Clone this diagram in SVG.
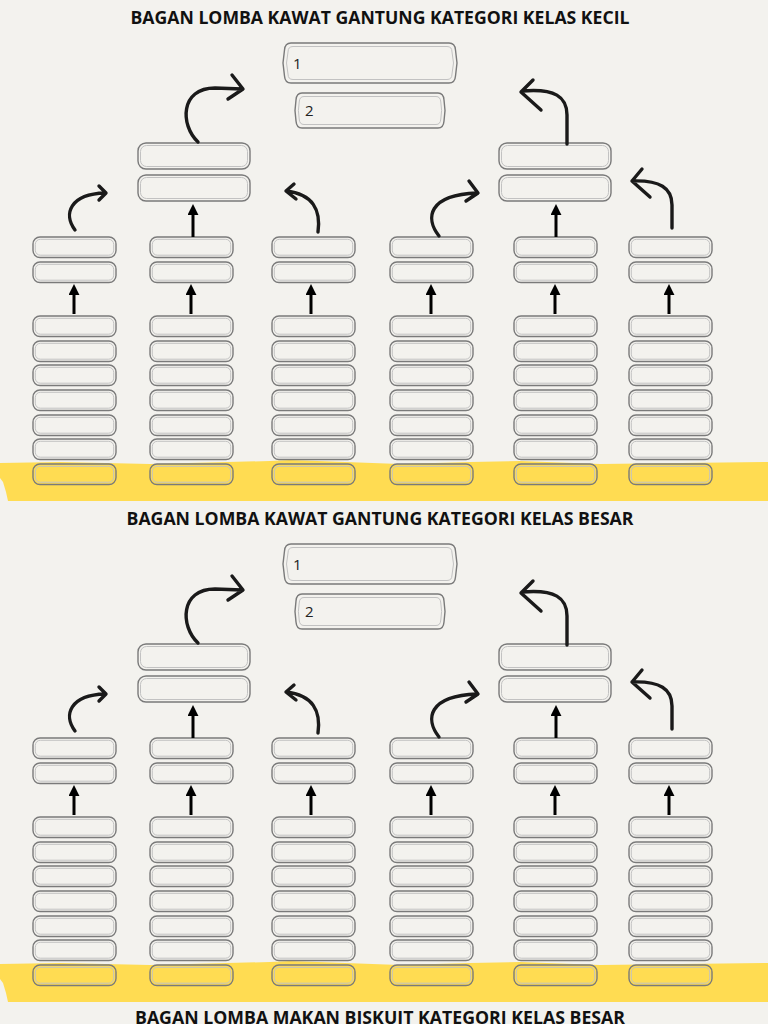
<svg xmlns="http://www.w3.org/2000/svg" xmlns:xlink="http://www.w3.org/1999/xlink" width="768" height="1024" viewBox="0 0 768 1024">
<style>
.bg{fill:#f3f2ee}
.band{fill:#ffdc52}
.title{font-family:"Open Sans","Liberation Sans",sans-serif;font-weight:700;font-size:17px;fill:#111;text-anchor:middle}
.num{font-family:"Open Sans","Liberation Sans",sans-serif;font-size:15px;fill:#222}
.o{fill:none;stroke:#7a7a7a;stroke-width:1.4}
.i{fill:none;stroke:#c2c2c2;stroke-width:1}
.sa{stroke:#000;stroke-width:3;fill:none}
.ca{stroke:#1a1a1a;stroke-width:3.4;fill:none;stroke-linecap:round;stroke-linejoin:round}
</style>
<defs>
<g id="sb"><rect class="o" x="0" y="0" width="83" height="20.5" rx="7"/><rect class="i" x="2.3" y="2.3" width="78.4" height="15.9" rx="5"/></g>
<g id="mb"><rect class="o" x="0" y="0" width="112" height="26" rx="8"/><rect class="i" x="2.5" y="2.5" width="107" height="21" rx="6"/></g>
<marker id="ah" viewBox="0 0 10 10" refX="1" refY="5" markerWidth="11" markerHeight="11" markerUnits="userSpaceOnUse" orient="auto"><path d="M0,0 L10,5 L0,10 Z" fill="#000"/></marker>
</defs>
<rect class="bg" x="0" y="0" width="768" height="1024"/>

<!-- bands -->
<path class="band" d="M0,463 L60,462 L150,464 L270,461 L290,460 L400,464 L470,462 L520,461 L600,464 L768,462 L768,501 L8,501 L6,492 L3,482 L0,478 Z"/>
<path class="band" d="M0,964 L60,963 L150,965 L270,962 L290,961 L400,965 L470,963 L520,962 L600,965 L768,963 L768,1002 L8,1002 L6,993 L3,983 L0,979 Z"/>

<!-- SECTION 1 -->
<text class="title" x="380" y="24" textLength="499" lengthAdjust="spacingAndGlyphs">BAGAN LOMBA KAWAT GANTUNG KATEGORI KELAS KECIL</text>
<g id="s1-nodes">
<g id="s1-final1"><path class="o" d="M291,43 H449 Q455,43 455.5,50 L457,63 L455.5,76 Q455,83 449,83 H291 Q285,83 284.5,76 L283,63 L284.5,50 Q285,43 291,43 Z"/><path class="i" d="M293,46.5 H447 Q452,46.5 452,52 L453.5,63 L452,74 Q452,79.5 447,79.5 H293 Q288,79.5 288,74 L286.5,63 L288,52 Q288,46.5 293,46.5 Z"/><text class="num" x="293" y="69">1</text></g>
<g id="s1-final2"><path class="o" d="M302,93 H438 Q443.5,93 444,100 L445,110.5 L444,121 Q443.5,128 438,128 H302 Q296.5,128 296,121 L295,110.5 L296,100 Q296.5,93 302,93 Z"/><path class="i" d="M304,96.5 H436 Q440.5,96.5 440.8,102 L441.6,110.5 L440.8,119 Q440.5,124.5 436,124.5 H304 Q299.5,124.5 299.2,119 L298.4,110.5 L299.2,102 Q299.5,96.5 304,96.5 Z"/><text class="num" x="305" y="116">2</text></g>
<g id="s1-L2a"><use xlink:href="#mb" x="138" y="143"/></g>
<g id="s1-L2b"><use xlink:href="#mb" x="138" y="175"/></g>
<g id="s1-R2a"><use xlink:href="#mb" x="499" y="143"/></g>
<g id="s1-R2b"><use xlink:href="#mb" x="499" y="175"/></g>
<g id="s1-c1-q1"><use xlink:href="#sb" x="33" y="237"/></g><g id="s1-c1-q2"><use xlink:href="#sb" x="33" y="262"/></g>
<g id="s1-c2-q1"><use xlink:href="#sb" x="150" y="237"/></g><g id="s1-c2-q2"><use xlink:href="#sb" x="150" y="262"/></g>
<g id="s1-c3-q1"><use xlink:href="#sb" x="272" y="237"/></g><g id="s1-c3-q2"><use xlink:href="#sb" x="272" y="262"/></g>
<g id="s1-c4-q1"><use xlink:href="#sb" x="390" y="237"/></g><g id="s1-c4-q2"><use xlink:href="#sb" x="390" y="262"/></g>
<g id="s1-c5-q1"><use xlink:href="#sb" x="514" y="237"/></g><g id="s1-c5-q2"><use xlink:href="#sb" x="514" y="262"/></g>
<g id="s1-c6-q1"><use xlink:href="#sb" x="629" y="237"/></g><g id="s1-c6-q2"><use xlink:href="#sb" x="629" y="262"/></g>
<g id="s1-c1-r1"><use xlink:href="#sb" x="33" y="316"/></g><g id="s1-c1-r2"><use xlink:href="#sb" x="33" y="341"/></g><g id="s1-c1-r3"><use xlink:href="#sb" x="33" y="365"/></g><g id="s1-c1-r4"><use xlink:href="#sb" x="33" y="390"/></g><g id="s1-c1-r5"><use xlink:href="#sb" x="33" y="415"/></g><g id="s1-c1-r6"><use xlink:href="#sb" x="33" y="439"/></g><g id="s1-c1-r7"><use xlink:href="#sb" x="33" y="464"/></g>
<g id="s1-c2-r1"><use xlink:href="#sb" x="150" y="316"/></g><g id="s1-c2-r2"><use xlink:href="#sb" x="150" y="341"/></g><g id="s1-c2-r3"><use xlink:href="#sb" x="150" y="365"/></g><g id="s1-c2-r4"><use xlink:href="#sb" x="150" y="390"/></g><g id="s1-c2-r5"><use xlink:href="#sb" x="150" y="415"/></g><g id="s1-c2-r6"><use xlink:href="#sb" x="150" y="439"/></g><g id="s1-c2-r7"><use xlink:href="#sb" x="150" y="464"/></g>
<g id="s1-c3-r1"><use xlink:href="#sb" x="272" y="316"/></g><g id="s1-c3-r2"><use xlink:href="#sb" x="272" y="341"/></g><g id="s1-c3-r3"><use xlink:href="#sb" x="272" y="365"/></g><g id="s1-c3-r4"><use xlink:href="#sb" x="272" y="390"/></g><g id="s1-c3-r5"><use xlink:href="#sb" x="272" y="415"/></g><g id="s1-c3-r6"><use xlink:href="#sb" x="272" y="439"/></g><g id="s1-c3-r7"><use xlink:href="#sb" x="272" y="464"/></g>
<g id="s1-c4-r1"><use xlink:href="#sb" x="390" y="316"/></g><g id="s1-c4-r2"><use xlink:href="#sb" x="390" y="341"/></g><g id="s1-c4-r3"><use xlink:href="#sb" x="390" y="365"/></g><g id="s1-c4-r4"><use xlink:href="#sb" x="390" y="390"/></g><g id="s1-c4-r5"><use xlink:href="#sb" x="390" y="415"/></g><g id="s1-c4-r6"><use xlink:href="#sb" x="390" y="439"/></g><g id="s1-c4-r7"><use xlink:href="#sb" x="390" y="464"/></g>
<g id="s1-c5-r1"><use xlink:href="#sb" x="514" y="316"/></g><g id="s1-c5-r2"><use xlink:href="#sb" x="514" y="341"/></g><g id="s1-c5-r3"><use xlink:href="#sb" x="514" y="365"/></g><g id="s1-c5-r4"><use xlink:href="#sb" x="514" y="390"/></g><g id="s1-c5-r5"><use xlink:href="#sb" x="514" y="415"/></g><g id="s1-c5-r6"><use xlink:href="#sb" x="514" y="439"/></g><g id="s1-c5-r7"><use xlink:href="#sb" x="514" y="464"/></g>
<g id="s1-c6-r1"><use xlink:href="#sb" x="629" y="316"/></g><g id="s1-c6-r2"><use xlink:href="#sb" x="629" y="341"/></g><g id="s1-c6-r3"><use xlink:href="#sb" x="629" y="365"/></g><g id="s1-c6-r4"><use xlink:href="#sb" x="629" y="390"/></g><g id="s1-c6-r5"><use xlink:href="#sb" x="629" y="415"/></g><g id="s1-c6-r6"><use xlink:href="#sb" x="629" y="439"/></g><g id="s1-c6-r7"><use xlink:href="#sb" x="629" y="464"/></g>
</g>
<g id="s1-connectors">
<line class="sa" x1="74" y1="314" x2="74" y2="294" marker-end="url(#ah)"/>
<line class="sa" x1="191" y1="314" x2="191" y2="294" marker-end="url(#ah)"/>
<line class="sa" x1="311" y1="314" x2="311" y2="294" marker-end="url(#ah)"/>
<line class="sa" x1="431" y1="314" x2="431" y2="294" marker-end="url(#ah)"/>
<line class="sa" x1="555" y1="314" x2="555" y2="294" marker-end="url(#ah)"/>
<line class="sa" x1="669" y1="314" x2="669" y2="294" marker-end="url(#ah)"/>
<line class="sa" x1="193" y1="237" x2="193" y2="214" marker-end="url(#ah)"/>
<line class="sa" x1="556" y1="237" x2="556" y2="214" marker-end="url(#ah)"/>
<path class="ca" d="M75,230 C63,214 70,194 105,193 M99,186 L106,193 L99,200"/>
<path class="ca" d="M318,232 C321,210 313,194 286,191 M294,184 L286,191 L296,199"/>
<path class="ca" d="M439,236 C425,218 428,195 477,193 M469,181 L478,193 L466,201"/>
<path class="ca" d="M672,228 L672,205 C672,188 660,180 632,181 M642,169 L632,181 L650,197"/>
<path class="ca" d="M198,142 C180,125 180,88 215,88 L242,89 M232,75 L243,89 L228,99"/>
<path class="ca" d="M567,144 L567,115 C567,97 555,88 522,91 M533,80 L521,92 L541,110"/>
</g>

<!-- SECTION 2 -->
<text class="title" x="380" y="525" textLength="507" lengthAdjust="spacingAndGlyphs">BAGAN LOMBA KAWAT GANTUNG KATEGORI KELAS BESAR</text>
<g id="s2-nodes" transform="translate(0,501)">
<g id="s2-final1"><path class="o" d="M291,43 H449 Q455,43 455.5,50 L457,63 L455.5,76 Q455,83 449,83 H291 Q285,83 284.5,76 L283,63 L284.5,50 Q285,43 291,43 Z"/><path class="i" d="M293,46.5 H447 Q452,46.5 452,52 L453.5,63 L452,74 Q452,79.5 447,79.5 H293 Q288,79.5 288,74 L286.5,63 L288,52 Q288,46.5 293,46.5 Z"/><text class="num" x="293" y="69">1</text></g>
<g id="s2-final2"><path class="o" d="M302,93 H438 Q443.5,93 444,100 L445,110.5 L444,121 Q443.5,128 438,128 H302 Q296.5,128 296,121 L295,110.5 L296,100 Q296.5,93 302,93 Z"/><path class="i" d="M304,96.5 H436 Q440.5,96.5 440.8,102 L441.6,110.5 L440.8,119 Q440.5,124.5 436,124.5 H304 Q299.5,124.5 299.2,119 L298.4,110.5 L299.2,102 Q299.5,96.5 304,96.5 Z"/><text class="num" x="305" y="116">2</text></g>
<g id="s2-L2a"><use xlink:href="#mb" x="138" y="143"/></g>
<g id="s2-L2b"><use xlink:href="#mb" x="138" y="175"/></g>
<g id="s2-R2a"><use xlink:href="#mb" x="499" y="143"/></g>
<g id="s2-R2b"><use xlink:href="#mb" x="499" y="175"/></g>
<g id="s2-c1-q1"><use xlink:href="#sb" x="33" y="237"/></g><g id="s2-c1-q2"><use xlink:href="#sb" x="33" y="262"/></g>
<g id="s2-c2-q1"><use xlink:href="#sb" x="150" y="237"/></g><g id="s2-c2-q2"><use xlink:href="#sb" x="150" y="262"/></g>
<g id="s2-c3-q1"><use xlink:href="#sb" x="272" y="237"/></g><g id="s2-c3-q2"><use xlink:href="#sb" x="272" y="262"/></g>
<g id="s2-c4-q1"><use xlink:href="#sb" x="390" y="237"/></g><g id="s2-c4-q2"><use xlink:href="#sb" x="390" y="262"/></g>
<g id="s2-c5-q1"><use xlink:href="#sb" x="514" y="237"/></g><g id="s2-c5-q2"><use xlink:href="#sb" x="514" y="262"/></g>
<g id="s2-c6-q1"><use xlink:href="#sb" x="629" y="237"/></g><g id="s2-c6-q2"><use xlink:href="#sb" x="629" y="262"/></g>
<g id="s2-c1-r1"><use xlink:href="#sb" x="33" y="316"/></g><g id="s2-c1-r2"><use xlink:href="#sb" x="33" y="341"/></g><g id="s2-c1-r3"><use xlink:href="#sb" x="33" y="365"/></g><g id="s2-c1-r4"><use xlink:href="#sb" x="33" y="390"/></g><g id="s2-c1-r5"><use xlink:href="#sb" x="33" y="415"/></g><g id="s2-c1-r6"><use xlink:href="#sb" x="33" y="439"/></g><g id="s2-c1-r7"><use xlink:href="#sb" x="33" y="464"/></g>
<g id="s2-c2-r1"><use xlink:href="#sb" x="150" y="316"/></g><g id="s2-c2-r2"><use xlink:href="#sb" x="150" y="341"/></g><g id="s2-c2-r3"><use xlink:href="#sb" x="150" y="365"/></g><g id="s2-c2-r4"><use xlink:href="#sb" x="150" y="390"/></g><g id="s2-c2-r5"><use xlink:href="#sb" x="150" y="415"/></g><g id="s2-c2-r6"><use xlink:href="#sb" x="150" y="439"/></g><g id="s2-c2-r7"><use xlink:href="#sb" x="150" y="464"/></g>
<g id="s2-c3-r1"><use xlink:href="#sb" x="272" y="316"/></g><g id="s2-c3-r2"><use xlink:href="#sb" x="272" y="341"/></g><g id="s2-c3-r3"><use xlink:href="#sb" x="272" y="365"/></g><g id="s2-c3-r4"><use xlink:href="#sb" x="272" y="390"/></g><g id="s2-c3-r5"><use xlink:href="#sb" x="272" y="415"/></g><g id="s2-c3-r6"><use xlink:href="#sb" x="272" y="439"/></g><g id="s2-c3-r7"><use xlink:href="#sb" x="272" y="464"/></g>
<g id="s2-c4-r1"><use xlink:href="#sb" x="390" y="316"/></g><g id="s2-c4-r2"><use xlink:href="#sb" x="390" y="341"/></g><g id="s2-c4-r3"><use xlink:href="#sb" x="390" y="365"/></g><g id="s2-c4-r4"><use xlink:href="#sb" x="390" y="390"/></g><g id="s2-c4-r5"><use xlink:href="#sb" x="390" y="415"/></g><g id="s2-c4-r6"><use xlink:href="#sb" x="390" y="439"/></g><g id="s2-c4-r7"><use xlink:href="#sb" x="390" y="464"/></g>
<g id="s2-c5-r1"><use xlink:href="#sb" x="514" y="316"/></g><g id="s2-c5-r2"><use xlink:href="#sb" x="514" y="341"/></g><g id="s2-c5-r3"><use xlink:href="#sb" x="514" y="365"/></g><g id="s2-c5-r4"><use xlink:href="#sb" x="514" y="390"/></g><g id="s2-c5-r5"><use xlink:href="#sb" x="514" y="415"/></g><g id="s2-c5-r6"><use xlink:href="#sb" x="514" y="439"/></g><g id="s2-c5-r7"><use xlink:href="#sb" x="514" y="464"/></g>
<g id="s2-c6-r1"><use xlink:href="#sb" x="629" y="316"/></g><g id="s2-c6-r2"><use xlink:href="#sb" x="629" y="341"/></g><g id="s2-c6-r3"><use xlink:href="#sb" x="629" y="365"/></g><g id="s2-c6-r4"><use xlink:href="#sb" x="629" y="390"/></g><g id="s2-c6-r5"><use xlink:href="#sb" x="629" y="415"/></g><g id="s2-c6-r6"><use xlink:href="#sb" x="629" y="439"/></g><g id="s2-c6-r7"><use xlink:href="#sb" x="629" y="464"/></g>
</g>
<g id="s2-connectors" transform="translate(0,501)">
<line class="sa" x1="74" y1="314" x2="74" y2="294" marker-end="url(#ah)"/>
<line class="sa" x1="191" y1="314" x2="191" y2="294" marker-end="url(#ah)"/>
<line class="sa" x1="311" y1="314" x2="311" y2="294" marker-end="url(#ah)"/>
<line class="sa" x1="431" y1="314" x2="431" y2="294" marker-end="url(#ah)"/>
<line class="sa" x1="555" y1="314" x2="555" y2="294" marker-end="url(#ah)"/>
<line class="sa" x1="669" y1="314" x2="669" y2="294" marker-end="url(#ah)"/>
<line class="sa" x1="193" y1="237" x2="193" y2="214" marker-end="url(#ah)"/>
<line class="sa" x1="556" y1="237" x2="556" y2="214" marker-end="url(#ah)"/>
<path class="ca" d="M75,230 C63,214 70,194 105,193 M99,186 L106,193 L99,200"/>
<path class="ca" d="M318,232 C321,210 313,194 286,191 M294,184 L286,191 L296,199"/>
<path class="ca" d="M439,236 C425,218 428,195 477,193 M469,181 L478,193 L466,201"/>
<path class="ca" d="M672,228 L672,205 C672,188 660,180 632,181 M642,169 L632,181 L650,197"/>
<path class="ca" d="M198,142 C180,125 180,88 215,88 L242,89 M232,75 L243,89 L228,99"/>
<path class="ca" d="M567,144 L567,115 C567,97 555,88 522,91 M533,80 L521,92 L541,110"/>
</g>

<text class="title" x="380" y="1024" textLength="490" lengthAdjust="spacingAndGlyphs">BAGAN LOMBA MAKAN BISKUIT KATEGORI KELAS BESAR</text>
</svg>
